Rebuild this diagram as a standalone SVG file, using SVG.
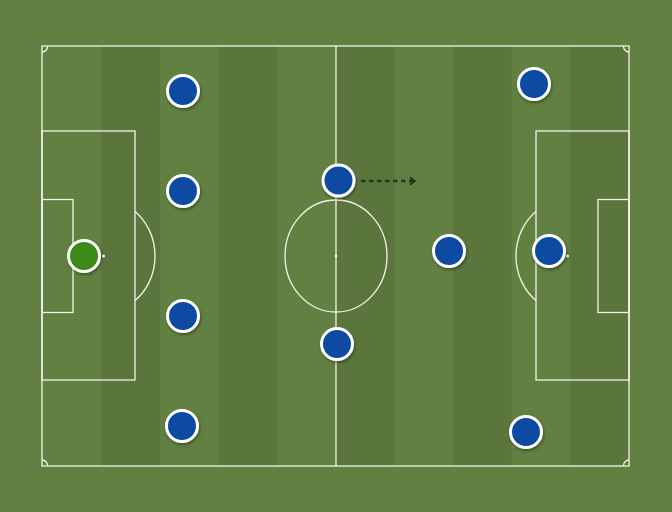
<svg xmlns="http://www.w3.org/2000/svg" width="672" height="512" viewBox="0 0 672 512">
<defs>
<style>
.ln{fill:none;stroke:#f2f2ea;stroke-width:1.3}
.dk{fill:#5a763d}
.pl{stroke:#fff;stroke-width:3}
.blue{fill:#0e4ba3}
.green{fill:#3b8a16}
.spot{fill:#fff}
</style>
<filter id="sh" x="-50%" y="-50%" width="200%" height="200%">
<feDropShadow dx="1" dy="2" stdDeviation="1.5" flood-color="#000" flood-opacity="0.35"/>
</filter>
<marker id="ah" markerWidth="8" markerHeight="8" refX="5" refY="4" orient="auto" markerUnits="userSpaceOnUse">
<path d="M1,0.5 L5.5,4 L1,7.5" fill="none" stroke="#26361c" stroke-width="2.2"/>
</marker>
</defs>
<rect width="672" height="512" fill="#628042"/>
<g id="stripes">
<rect class="dk" x="101" y="46" width="59" height="420"/>
<rect class="dk" x="218.5" y="46" width="58.5" height="420"/>
<rect class="dk" x="336" y="46" width="58.5" height="420"/>
<rect class="dk" x="453" y="46" width="58.5" height="420"/>
<rect class="dk" x="570" y="46" width="59" height="420"/>
</g>
<g id="pitch">
<rect class="ln" x="42" y="46" width="587" height="420"/>
<line class="ln" x1="336" y1="46" x2="336" y2="466"/>
<ellipse class="ln" cx="336" cy="256" rx="51" ry="56"/>
<circle class="spot" cx="336" cy="256" r="1.2"/>
<rect class="ln" x="42" y="131" width="93" height="249"/>
<rect class="ln" x="42" y="199.5" width="31" height="113"/>
<path class="ln" d="M135,211.5 A51,56 0 0 1 135,300.5"/>
<circle class="spot" cx="103.5" cy="256" r="1.5"/>
<rect class="ln" x="536" y="131" width="93" height="249"/>
<rect class="ln" x="598" y="199.5" width="31" height="113"/>
<path class="ln" d="M536,211.5 A51,56 0 0 0 536,300.5"/>
<circle class="spot" cx="567.5" cy="256" r="1.5"/>
<path class="ln" d="M42,52 A5.6,6 0 0 0 47.6,46"/>
<path class="ln" d="M623.4,46 A5.6,6 0 0 0 629,52"/>
<path class="ln" d="M42,460 A5.6,6 0 0 1 47.6,466"/>
<path class="ln" d="M623.4,466 A5.6,6 0 0 1 629,460"/>
</g>
<g id="connectors">
<line x1="361" y1="181" x2="414" y2="181" stroke="#26361c" stroke-width="2.6" stroke-dasharray="4.5,3.5" marker-end="url(#ah)"/>
</g>
<g id="gk"><circle class="pl green" filter="url(#sh)" cx="84" cy="256" r="15.5"/></g>
<g id="p1"><circle class="pl blue" filter="url(#sh)" cx="183" cy="91" r="15.5"/></g>
<g id="p2"><circle class="pl blue" filter="url(#sh)" cx="183" cy="191" r="15.5"/></g>
<g id="p3"><circle class="pl blue" filter="url(#sh)" cx="183" cy="316" r="15.5"/></g>
<g id="p4"><circle class="pl blue" filter="url(#sh)" cx="182" cy="426" r="15.5"/></g>
<g id="p5"><circle class="pl blue" filter="url(#sh)" cx="338.5" cy="180.5" r="15.5"/></g>
<g id="p6"><circle class="pl blue" filter="url(#sh)" cx="337" cy="344" r="15.5"/></g>
<g id="p7"><circle class="pl blue" filter="url(#sh)" cx="449" cy="251" r="15.5"/></g>
<g id="p8"><circle class="pl blue" filter="url(#sh)" cx="534" cy="84" r="15.5"/></g>
<g id="p9"><circle class="pl blue" filter="url(#sh)" cx="549" cy="251" r="15.5"/></g>
<g id="p10"><circle class="pl blue" filter="url(#sh)" cx="526" cy="432" r="15.5"/></g>
</svg>
